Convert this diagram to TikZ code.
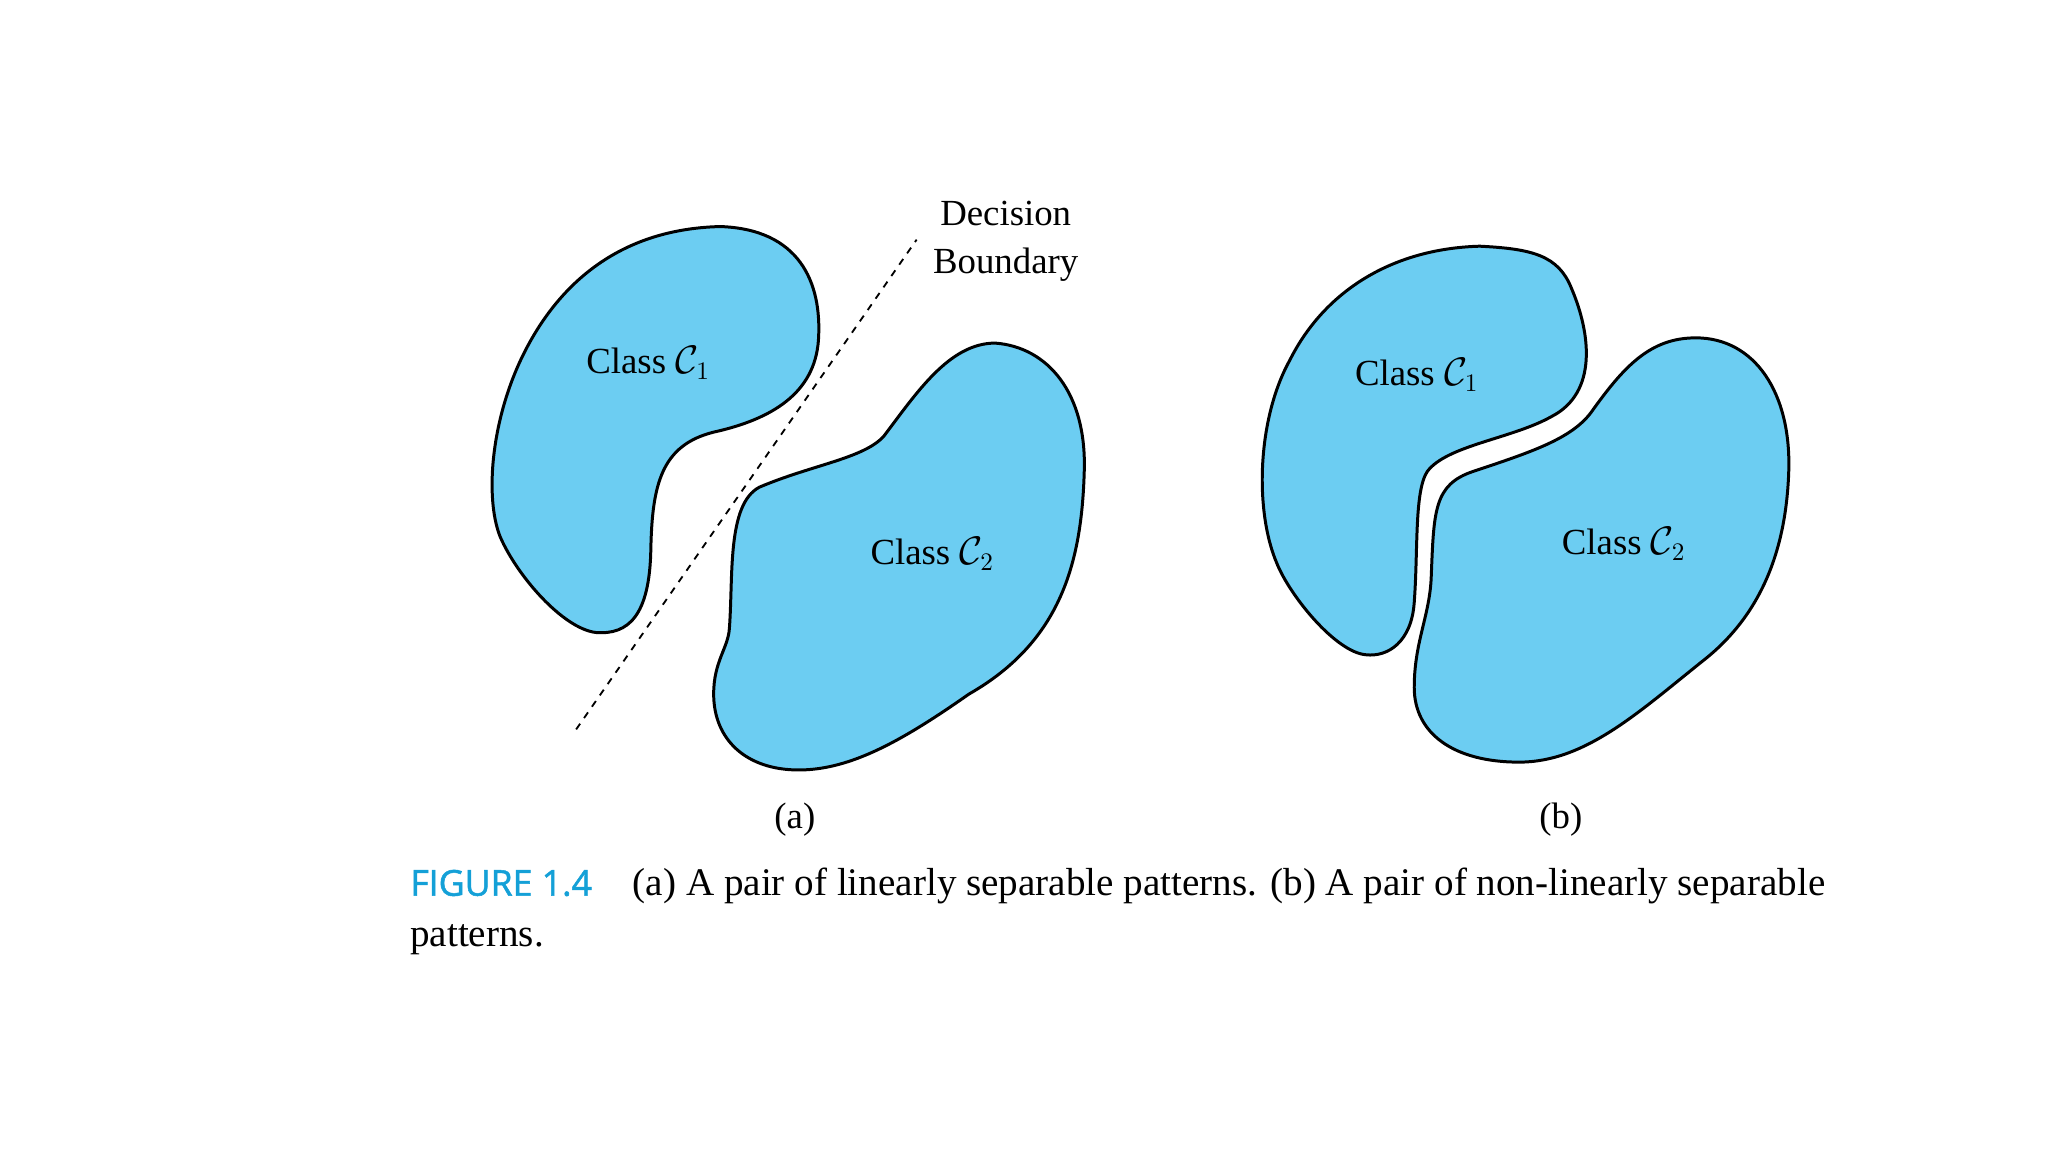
\documentclass[tikz,border=0pt]{standalone}
\usepackage{fontspec}
\setmainfont{Liberation Serif}
\newfontfamily\capsans{Open Sans}
\definecolor{blobfill}{RGB}{108,205,242}
\definecolor{figcyan}{RGB}{20,160,215}
\begin{document}
\begin{tikzpicture}[x=0.02cm,y=-0.02cm,
  blob/.style={fill=blobfill,draw=black,line width=1.3pt},
  lbl/.style={font=\fontsize{16}{19}\selectfont,inner sep=0pt}]
\useasboundingbox (0,0) rectangle (1564,880);
% (a)
\draw[blob] (550,173) .. controls (610,175) and (628,215) .. (625,260) .. controls (622,300) and (590,320) .. (545,330) .. controls (505,340) and (498,370) .. (497,420) .. controls (496,470) and (480,485) .. (455,483) .. controls (430,480) and (395,440) .. (382,410) .. controls (370,380) and (375,320) .. (400,270) .. controls (425,220) and (470,175) .. cycle;
\draw[blob] (760,262) .. controls (800,265) and (830,300) .. (828,360) .. controls (826,430) and (810,490) .. (740,530) .. controls (690,565) and (650,588) .. (610,588) .. controls (570,588) and (545,565) .. (545,530) .. controls (545,505) and (556,495) .. (557,480) .. controls (560,440) and (555,385) .. (580,372) .. controls (620,355) and (660,350) .. (675,333) .. controls (700,300) and (725,262) .. cycle;
\coordinate (d1) at (440,557);
\coordinate (d2) at (700,183);
\draw[dashed,line width=0.8pt] (d1) -- (d2);
\node[lbl,align=center] (db) at (768,184) {Decision\\[2pt]Boundary};
\node[lbl] (a1) at (495,277) {Class $\mathcal{C}_1$};
\node[lbl] (a2) at (712,423) {Class $\mathcal{C}_2$};
% (b)
\draw[blob] (1130,188) .. controls (1170,190) and (1190,195) .. (1200,220) .. controls (1215,255) and (1220,300) .. (1185,318) .. controls (1155,335) and (1105,340) .. (1090,360) .. controls (1080,375) and (1083,420) .. (1080,460) .. controls (1078,490) and (1060,502) .. (1043,500) .. controls (1020,498) and (985,455) .. (975,430) .. controls (958,390) and (960,320) .. (985,275) .. controls (1010,225) and (1060,190) .. cycle;
\draw[blob] (1295,258) .. controls (1340,258) and (1368,300) .. (1366,360) .. controls (1364,420) and (1345,470) .. (1300,505) .. controls (1250,545) and (1210,582) .. (1160,582) .. controls (1110,582) and (1080,560) .. (1080,525) .. controls (1080,490) and (1092,470) .. (1093,440) .. controls (1095,390) and (1095,370) .. (1125,360) .. controls (1170,345) and (1200,335) .. (1215,315) .. controls (1240,280) and (1260,258) .. cycle;
\node[lbl] (b1) at (1082,286) {Class $\mathcal{C}_1$};
\node[lbl] (b2) at (1240,415) {Class $\mathcal{C}_2$};
\node[lbl] (la) at (607,626) {(a)};
\node[lbl] (lb) at (1192,626) {(b)};
\node[lbl,anchor=base west,text=figcyan,font=\capsans\fontsize{15.5}{18}\selectfont\addfontfeatures{FakeBold=1.5}] (fig) at (313,684) {FIGURE 1.4};
\node[lbl,anchor=base west,font=\fontsize{17}{20}\selectfont] (cap1) at (483,684) {(a) A pair of linearly separable patterns. (b) A pair of non-linearly separable};
\node[lbl,anchor=base west,font=\fontsize{17}{20}\selectfont] (cap2) at (313,723) {patterns.};
\end{tikzpicture}
\end{document}
